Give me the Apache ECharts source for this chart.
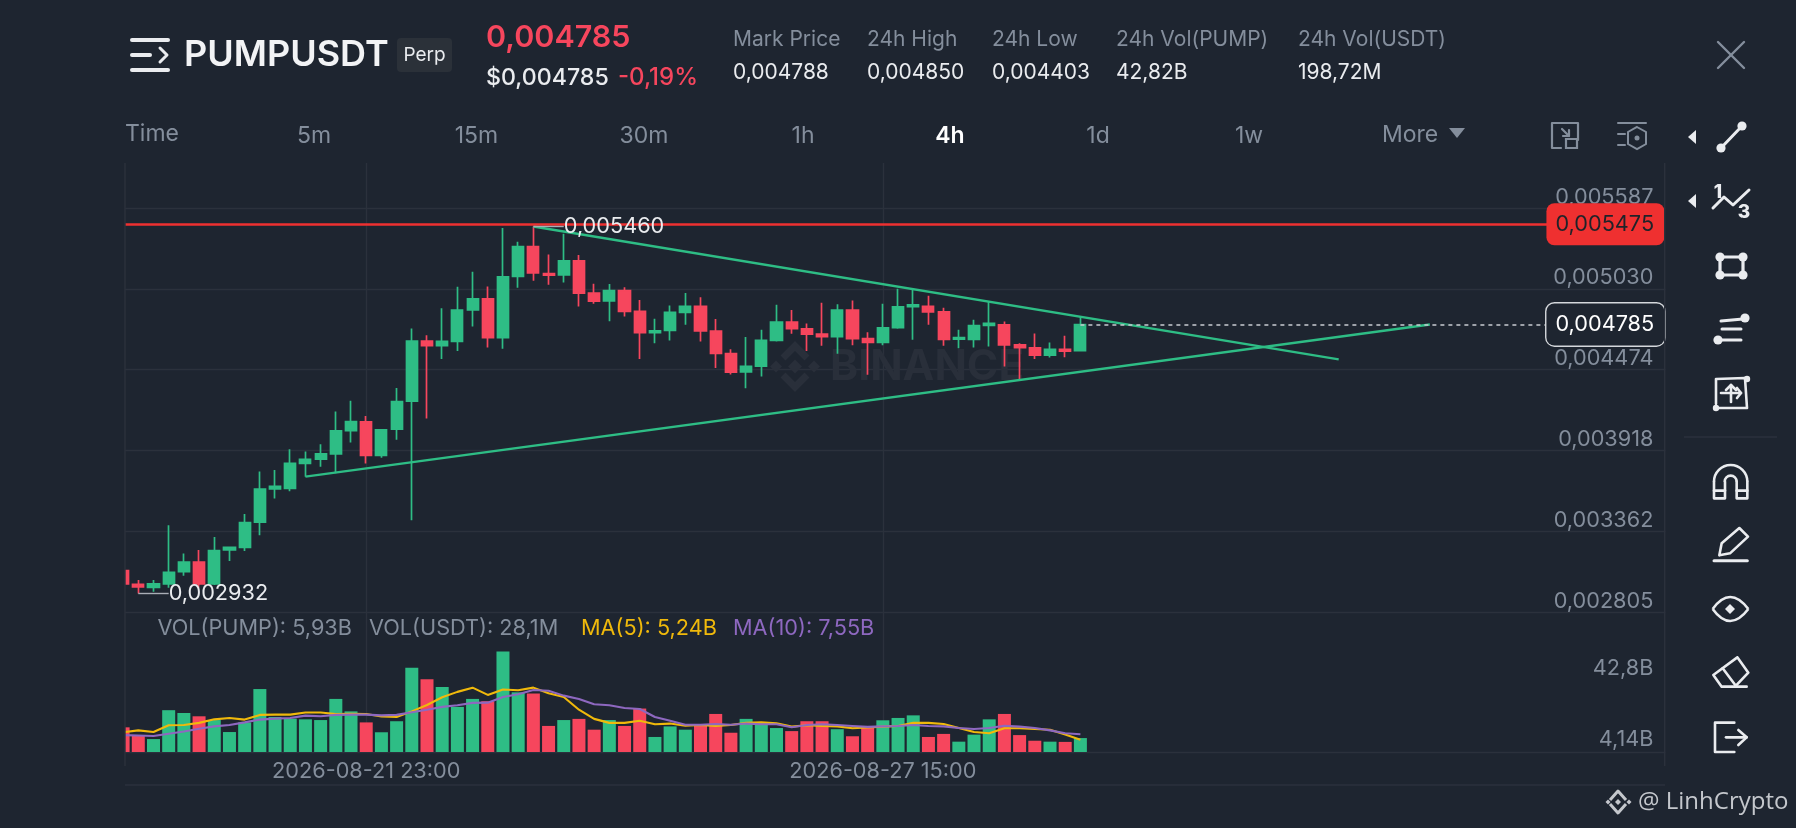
<!DOCTYPE html>
<html><head><meta charset="utf-8">
<style>html,body{margin:0;padding:0;background:#1E2530;overflow:hidden}#c{width:1796px;height:828px}</style>
<script src="https://cdn.jsdelivr.net/npm/echarts@6/dist/echarts.min.js"></script>
</head><body><div id="c"></div>
<script>
const opens=[.003090,.002995,.002975,.002998,.003083,.003149,.002998,.003232,.003250,.003423,.003652,.003657,.003829,.003857,.003894,.004054,.004114,.003884,.004064,.004257,.004670,.004640,.004668,.004886,.004962,.004695,.005116,.005322,.005136,.005127,.005224,.005001,.004948,.005019,.004875,.004728,.004744,.004868,.004909,.004739,.004585,.004459,.004498,.004675,.004801,.004755,.004718,.004702,.004884,.004688,.004661,.004764,.004907,.004909,.004872,.004684,.004682,.004778,.004783,.004645,.004624,.004574,.004613,.004604];
const closes=[.002998,.002977,.002998,.003078,.003149,.002998,.003227,.003250,.003420,.003652,.003671,.003829,.003857,.003894,.004052,.004116,.003884,.004059,.004254,.004670,.004640,.004668,.004884,.004962,.004695,.005113,.005322,.005141,.005125,.005224,.005001,.004946,.005019,.004875,.004728,.004741,.004868,.004909,.004741,.004585,.004456,.004496,.004675,.004801,.004757,.004718,.004702,.004884,.004688,.004661,.004762,.004907,.004920,.004872,.004682,.004695,.004778,.004792,.004645,.004626,.004574,.004613,.004601,.004785];
const lows=[.002991,.002932,.002945,.002972,.003055,.002970,.002991,.003156,.003225,.003333,.003586,.003636,.003737,.003806,.003760,.003972,.003827,.003868,.003992,.003436,.004137,.004548,.004603,.004771,.004626,.004617,.005038,.005086,.005058,.005074,.004909,.004927,.004808,.004840,.004548,.004656,.004675,.004783,.004668,.004486,.004440,.004346,.004427,.004668,.004721,.004603,.004638,.004583,.004642,.004438,.004642,.004755,.004679,.004783,.004638,.004622,.004626,.004633,.004496,.004404,.004548,.004558,.004560,.004603];
const highs=[.003106,.003025,.003025,.003402,.003207,.003232,.003322,.003255,.003480,.003772,.003783,.003926,.003910,.003960,.004185,.004259,.004155,.004066,.004348,.004757,.004711,.004897,.005045,.005148,.005047,.005449,.005355,.005460,.005267,.005410,.005263,.005065,.005063,.005042,.004953,.004824,.004916,.005001,.004973,.004822,.004615,.004698,.004748,.004920,.004884,.004792,.004934,.004925,.004950,.004732,.004927,.005031,.005031,.004982,.004900,.004748,.004817,.004939,.004806,.004656,.004723,.004661,.004707,.004840];
const volumes=[10.5,7.0,5.5,17.8,16.6,15.2,13.6,8.5,12.6,26.8,14.9,14.2,13.9,13.6,22.6,17.3,12.6,8.4,13.1,35.9,31.0,27.7,19.2,22.6,21.6,42.8,25.4,24.9,11.1,13.6,14.1,9.5,13.6,11.1,18.5,6.4,10.9,9.5,11.6,16.2,8.2,14.1,12.4,10.2,8.9,13.1,13.1,9.7,6.7,10.7,13.5,14.5,15.6,6.4,7.7,4.4,7.4,13.9,16.2,7.2,4.8,4.4,4.3,5.93];
const ma5=[8.4,9.2,8.5,11.4,11.5,12.4,13.9,14.5,13.8,15.8,15.9,15.9,16.8,16.8,16.2,16.3,16.2,15.1,14.9,17.3,20.0,23.3,25.6,27.4,24.3,26.6,26.3,27.4,25.0,23.4,18.0,14.1,12.4,12.4,13.3,11.8,12.1,11.2,11.5,11.1,11.5,12.4,12.6,12.2,10.8,11.4,11.1,10.9,10.1,10.4,10.8,11.1,12.4,12.4,11.9,10.2,8.5,8.0,10.1,10.1,9.8,9.5,7.4,5.24];
const ma10=[7.2,7.0,6.8,7.8,8.7,9.9,10.9,11.5,12.6,13.8,14.2,14.5,15.5,15.2,15.8,15.9,15.9,15.6,15.8,16.9,18.0,19.2,19.9,20.9,21.0,23.4,24.6,26.4,26.1,24.0,22.6,20.3,19.9,18.7,18.3,14.9,13.3,11.6,11.6,11.9,11.6,12.1,11.8,11.8,10.5,11.5,11.8,11.5,11.1,10.7,10.9,11.1,11.5,11.1,10.9,10.2,9.8,10.2,11.2,10.8,10.2,9.2,8.0,7.55];
const priceTicks=[0.002805,0.003362,0.003918,0.004474,0.005030,0.005587];
const volTickLabels=[4.14,42.8];
const supportLine=[[12,0.003737],[86,0.004785]];
const resistanceLine=[[27,0.005460],[80,0.004545]];
const resistancePrice=0.005475, lastPrice=0.004785, highMark=0.005460, lowMark=0.002932;
const stats=[['Mark Price','0,004788'],['24h High','0,004850'],['24h Low','0,004403'],['24h Vol(PUMP)','42,82B'],['24h Vol(USDT)','198,72M']];
const frames=['5m','15m','30m','1h','4h','1d','1w'];

const UP='#2EBD85',DOWN='#F6465D',BG='#1E2530',GRID='#2B313C',GREY='#848E9C',WHITE='#EAECEF';
const FONT='Inter';
const AXIS_SIZE=21.7;
const BANDS=102;
const fmt=v=>v.toFixed(6).replace('.',',');
const two=n=>String(n).padStart(2,'0');
const T0=Date.UTC(2026,7,21,23);
const categories=Array.from({length:BANDS},(_,i)=>{const d=new Date(T0+(i-16)*4*3600e3);
 return `${d.getUTCFullYear()}-${two(d.getUTCMonth()+1)}-${two(d.getUTCDate())} ${two(d.getUTCHours())}:00`;});
const shownTicks=i=>i===16||i===50;
const candleData=opens.map((o,i)=>[o,closes[i],lows[i],highs[i]]);
const volData=volumes.map((v,i)=>({value:v,itemStyle:{color:closes[i]>=opens[i]?UP:DOWN}}));

// chrome
const g=[];
const Z=60;
const txt=(s,x,y,size,color,weight,align)=>g.push({type:'text',z:Z,x,y,style:{text:s,fill:color,font:`${weight||400} ${size}px ${FONT}`,align:align||'left',verticalAlign:'middle'}});
const pl=(pts,c,w,extra)=>g.push({type:'polyline',z:Z,shape:{points:pts},style:Object.assign({stroke:c||WHITE,lineWidth:w||2.6,fill:null,lineCap:'round',lineJoin:'round'},extra||{})});
const cir=(x,y,r,c)=>g.push({type:'circle',z:Z,shape:{cx:x,cy:y,r},style:{fill:c||WHITE}});
const rect=(x,y,w,h,fill,r,z)=>g.push({type:'rect',z:z||Z,shape:{x,y,width:w,height:h,r:r||0},style:{fill}});
const curve=(x1,y1,cx,cy,x2,y2,c,w)=>g.push({type:'bezierCurve',z:Z,shape:{x1,y1,x2,y2,cpx1:cx,cpy1:cy},style:{stroke:c||WHITE,lineWidth:w||2.6,fill:null}});
const arc=(cx,cy,r,a0,a1,c,w)=>g.push({type:'arc',z:Z,shape:{cx,cy,r,startAngle:a0,endAngle:a1,clockwise:true},style:{stroke:c||WHITE,lineWidth:w||2.6,fill:null}});
// mask left of the plot edge
rect(100,150,25,625,BG,0,50);
// frame
const fr=(x1,y1,x2,y2)=>g.push({type:'line',z:51,shape:{x1,y1,x2,y2},style:{stroke:GRID,lineWidth:1.4}});
fr(125,163,125,766);fr(1664.7,163,1664.7,766);fr(125,785,1665,785);
// header
pl([[132,40],[168,40]],WHITE,4);pl([[132,55],[150,55]],WHITE,4);pl([[132,70],[168,70]],WHITE,4);pl([[160,48],[167,55],[160,62]],WHITE,3);
txt('PUMPUSDT',184,55,36,'#F2F3F5',600);
rect(397,38,55,34,'#2B3139',4);txt('Perp',424.5,55,19,WHITE,400,'center');
txt('0,004785',486,38,30.5,DOWN,600);
txt('$0,004785',486,78,23.2,WHITE,500);
txt('-0,19%',618,78,24,DOWN,500);
[733,867,992,1116,1298].forEach((x,i)=>{txt(stats[i][0],x,40,21,GREY);txt(stats[i][1],x,73,21,WHITE);});
pl([[1718,42],[1744,68]],GREY,2.4);pl([[1744,42],[1718,68]],GREY,2.4);
// timeframe row
txt('Time',125,134,23,GREY);
[314,476.5,644,803,950,1098,1249].forEach((x,i)=>txt(frames[i],x,136,23,frames[i]==='4h'?'#FFFFFF':GREY,frames[i]==='4h'?600:400,'center'));
txt('More',1382,135,23,GREY);
g.push({type:'polygon',z:Z,shape:{points:[[1449,128],[1465,128],[1457,138]]},style:{fill:GREY}});
// layout icons
pl([[1578,140],[1578,123],[1552,123],[1552,148],[1561,148]],GREY,2.2);g.push({type:'rect',z:Z,shape:{x:1566,y:139,width:11,height:9},style:{stroke:GREY,lineWidth:2.2,fill:null}});
pl([[1562,129],[1569,136]],GREY,2.2);pl([[1569,130],[1569,136],[1563,136]],GREY,2.2);
pl([[1618,123],[1646,123]],GREY,2);pl([[1618,134],[1625,134]],GREY,2);pl([[1618,145],[1625,145]],GREY,2);
g.push({type:'polygon',z:Z,shape:{points:[[1637,127],[1646,132],[1646,144],[1637,149],[1628,144],[1628,132]]},style:{stroke:GREY,lineWidth:2,fill:null}});
cir(1637,138,2.5,GREY);
// toolbar
g.push({type:'polygon',z:Z,shape:{points:[[1688,137],[1696,130],[1696,144]]},style:{fill:WHITE}});
g.push({type:'polygon',z:Z,shape:{points:[[1688,201],[1696,194],[1696,208]]},style:{fill:WHITE}});
cir(1721,148,4.6);cir(1742,126,4.6);pl([[1721,148],[1742,126]],WHITE,3);
pl([[1713,208],[1724,197],[1733,205],[1749,190]],WHITE,3);
txt('1',1718,192,19,WHITE,800,'center');txt('3',1744,212,19,WHITE,800,'center');
[[1720,257],[1743,257],[1720,275],[1743,275]].forEach(p=>cir(p[0],p[1],4.6));
pl([[1720,257],[1743,257],[1743,275],[1720,275],[1720,257]],WHITE,3.2);
cir(1745,318,4.6);pl([[1721,321],[1743,319]],WHITE,3);pl([[1722,329],[1741,329]],WHITE,3);cir(1718,340,4.6);pl([[1718,340],[1741,340]],WHITE,3);
pl([[1716,404],[1716,379],[1745,378],[1747,408],[1719,408]],WHITE,2.6);cir(1747,379,3.2);cir(1716,408,3.2);
pl([[1731,385],[1731,402]]);pl([[1721,393],[1741,393]]);pl([[1726,390],[1731,385],[1736,390]]);pl([[1737,388],[1741,393],[1737,398]]);
fr(1684,437,1777,437);
const zx=a=>1400+a/3, zy=b=>400+b/3;
arc(zx(992),zy(245),50/3,Math.PI,0);arc(zx(992),zy(245),18/3,Math.PI,0);
pl([[zx(942),zy(245)],[zx(942),zy(295)],[zx(975),zy(295)],[zx(975),zy(245)]]);
pl([[zx(1042),zy(245)],[zx(1042),zy(295)],[zx(1010),zy(295)],[zx(1010),zy(245)]]);
pl([[zx(942),zy(272)],[zx(975),zy(272)]]);pl([[zx(1010),zy(272)],[zx(1042),zy(272)]]);
pl([[zx(942),zy(482)],[zx(1042),zy(482)]],WHITE,3);
pl([[zx(958),zy(466)],[zx(965),zy(430)],[zx(1018),zy(384)],[zx(1044),zy(410)],[zx(990),zy(460)],[zx(958),zy(466)]]);
curve(zx(938),zy(627),zx(990),zy(555),zx(1045),zy(627));curve(zx(938),zy(627),zx(990),zy(699),zx(1045),zy(627));
g.push({type:'polygon',z:Z,shape:{points:[[zx(990),zy(612)],[zx(1005),zy(627)],[zx(990),zy(642)],[zx(975),zy(627)]]},style:{fill:WHITE}});
pl([[zx(1012),zy(772)],[zx(1045),zy(818)],[zx(1005),zy(860)],[zx(965),zy(860)],[zx(940),zy(825)],[zx(1012),zy(772)]]);
pl([[zx(968),zy(805)],[zx(1008),zy(858)]]);pl([[zx(1005),zy(860)],[zx(1040),zy(860)]]);
pl([[zx(1003),zy(968)],[zx(945),zy(968)],[zx(945),zy(1056)],[zx(1003),zy(1056)]]);
pl([[zx(978),zy(1012)],[zx(1040),zy(1012)]]);pl([[zx(1015),zy(990)],[zx(1040),zy(1012)],[zx(1015),zy(1035)]]);
// volume legend
txt('VOL(PUMP): 5,93B',157.5,628.5,AXIS_SIZE,GREY);txt('VOL(USDT): 28,1M',369,628.5,AXIS_SIZE,GREY);
txt('MA(5): 5,24B',581,628.5,AXIS_SIZE,'#F0B90B');txt('MA(10): 7,55B',733,628.5,AXIS_SIZE,'#8E68C0');
// credit
const diam=(cx,cy,r,c,z)=>g.push({type:'polygon',z:z||Z,shape:{points:[[cx,cy-r],[cx+r,cy],[cx,cy+r],[cx-r,cy]]},style:{fill:c}});
const CR='#C4C7CC';
pl([[1610,800],[1618,791],[1626,800]],CR,3,{lineCap:'butt'});pl([[1610,804],[1618,813],[1626,804]],CR,3,{lineCap:'butt'});
diam(1618,802,3,CR);diam(1608,802,2.5,CR);diam(1629,802,2.5,CR);
txt('@ LinhCrypto',1638,802,24,CR,400);
g[g.length-1].style.font=`400 24px "Open Sans"`;
// Binance watermark
const WM='#292F3A';
const wmLine=pts=>g.push({type:'polyline',z:1,shape:{points:pts},style:{stroke:WM,lineWidth:7,fill:null,lineJoin:'miter',lineCap:'butt'}});
wmLine([[783,358],[795,346],[807,358]]);wmLine([[783,375],[795,387],[807,375]]);
diam(795,366.5,7,WM,1);diam(776,366.5,6,WM,1);diam(814,366.5,6,WM,1);
g.push({type:'text',z:1,x:830,y:367,style:{text:'BINANCE',fill:WM,font:`700 42.6px ${FONT}`,verticalAlign:'middle'}});

const chart=echarts.init(document.getElementById('c'),null,{renderer:'canvas'});
const lbl={fontFamily:FONT,fontSize:AXIS_SIZE,color:GREY};
chart.setOption({
 animation:false,backgroundColor:BG,textStyle:{fontFamily:FONT},
 grid:[{left:115.5,right:130.6,top:163,bottom:216},{left:115.5,right:130.6,top:612,bottom:76}],
 xAxis:[
  {type:'category',gridIndex:0,data:categories,axisLine:{show:false},axisTick:{show:false,alignWithLabel:true,interval:shownTicks},axisLabel:{show:false,interval:shownTicks},splitLine:{show:true,alignWithLabel:true,interval:shownTicks,lineStyle:{color:GRID,width:1.4}}},
  {type:'category',gridIndex:1,data:categories,axisLine:{show:false},axisTick:{show:false,alignWithLabel:true,interval:shownTicks},axisLabel:Object.assign({show:true,interval:shownTicks,margin:8.5,hideOverlap:false},lbl),splitLine:{show:true,alignWithLabel:true,interval:shownTicks,lineStyle:{color:GRID,width:1.4}}}
 ],
 yAxis:[
  {type:'value',gridIndex:0,position:'right',min:0.002805,max:0.005897,scale:true,axisLine:{show:false},
   axisTick:{show:false,customValues:priceTicks},
   axisLabel:Object.assign({inside:true,margin:12,verticalAlign:'bottom',customValues:priceTicks,formatter:v=>fmt(v)},lbl),
   splitLine:{show:true,lineStyle:{color:GRID,width:1.4}}},
  {type:'value',gridIndex:1,position:'right',min:0,max:59.6,axisLine:{show:false},
   axisTick:{show:false,customValues:[0]},
   axisLabel:Object.assign({inside:true,margin:12,verticalAlign:'middle',customValues:volTickLabels,
     formatter:v=>v>10?`{hi|${String(v).replace('.',',')}B}`:`{lo|${String(v).replace('.',',')}B}`,
     rich:{hi:Object.assign({padding:[34,0,0,0]},lbl),lo:Object.assign({padding:[0,0,5,0]},lbl)}},lbl),
   splitLine:{show:true,lineStyle:{color:GRID,width:1.4}}}
 ],
 graphic:{elements:g},
 series:[
  {type:'candlestick',name:'PUMPUSDT',xAxisIndex:0,yAxisIndex:0,data:candleData,barWidth:11.6,clip:true,z:3,
   itemStyle:{color:UP,color0:DOWN,borderColor:UP,borderColor0:DOWN,borderWidth:1.7},
   markLine:{silent:true,symbol:['none','none'],animation:false,z:6,data:[
    [{coord:[0,resistancePrice],lineStyle:{color:'#EF3030',width:2.6,type:'solid'},
      label:{show:true,position:'end',distance:-5,formatter:fmt(resistancePrice),backgroundColor:'#EF3030',color:'#1E2329',borderRadius:8,fontFamily:FONT,fontSize:AXIS_SIZE,padding:[10,12,10,9],width:97,lineHeight:22,align:'left'}},{coord:[94,resistancePrice]}],
    [{coord:[63,lastPrice],lineStyle:{color:'#C9CCD1',width:1.6,type:[4,4]},
      label:{show:true,position:'end',distance:-5,formatter:fmt(lastPrice),backgroundColor:BG,borderColor:'#D5D8DC',borderWidth:1.4,color:'#FFFFFF',borderRadius:8,fontFamily:FONT,fontSize:AXIS_SIZE,padding:[10,12,10,9],width:97,lineHeight:22}},{coord:[94,lastPrice]}],
    [{coord:[27,highMark],lineStyle:{color:'#A9AEB6',width:1.4,type:'solid'},
      label:{show:true,position:'end',distance:0,formatter:fmt(highMark),color:WHITE,fontFamily:FONT,fontSize:AXIS_SIZE,padding:[4,0,0,0]}},{coord:[29,highMark]}],
    [{coord:[1,lowMark],lineStyle:{color:'#A9AEB6',width:1.4,type:'solid'},
      label:{show:true,position:'end',distance:0,formatter:fmt(lowMark),color:WHITE,fontFamily:FONT,fontSize:AXIS_SIZE,padding:[4,0,0,0]}},{coord:[3,lowMark]}]
   ]}},
  {type:'line',name:'support',xAxisIndex:0,yAxisIndex:0,data:supportLine,showSymbol:false,z:4,lineStyle:{color:UP,width:2.4},silent:true},
  {type:'line',name:'resistance',xAxisIndex:0,yAxisIndex:0,data:resistanceLine,showSymbol:false,z:4,lineStyle:{color:UP,width:2.4},silent:true},
  {type:'bar',name:'VOL',xAxisIndex:1,yAxisIndex:1,data:volData,barWidth:13,z:3},
  {type:'line',name:'MA(5)',xAxisIndex:1,yAxisIndex:1,data:ma5,showSymbol:false,z:4,lineStyle:{color:'#F0B90B',width:2.1}},
  {type:'line',name:'MA(10)',xAxisIndex:1,yAxisIndex:1,data:ma10,showSymbol:false,z:5,lineStyle:{color:'#8E68C0',width:2.1}}
 ]
});
</script></body></html>
